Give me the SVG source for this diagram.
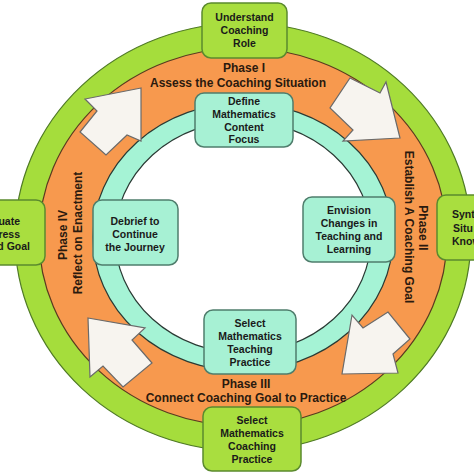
<svg xmlns="http://www.w3.org/2000/svg" width="474" height="474" viewBox="0 0 474 474">
  <style>
    .ring { stroke-width: 1.2; }
    .gbox { fill: #a9de3f; stroke: #5b8a2e; stroke-width: 1.5; }
    .cbox { fill: #a7f1d4; stroke: #4f7d6c; stroke-width: 1.5; }
    .bt { font-family: "Liberation Sans", Arial, sans-serif; font-weight: bold; font-size: 10.5px; fill: #1a1a1a; text-anchor: middle; }
    .pt { font-family: "Liberation Sans", Arial, sans-serif; font-weight: bold; font-size: 12px; fill: #2b1a0e; text-anchor: middle; }
    .arrow { fill: #f7f4ef; stroke: #6a6a6a; stroke-width: 1.2; stroke-linejoin: miter; }
  </style>
  <rect width="474" height="474" fill="#ffffff"/>
  <g id="rings">
    <ellipse class="ring" cx="243" cy="237" rx="228" ry="214" fill="#a5dd3c" stroke="#4f7a25"/>
    <ellipse class="ring" cx="243" cy="237" rx="204" ry="189" fill="#f7994e" stroke="#5a3a20"/>
    <ellipse class="ring" cx="243" cy="237" rx="150" ry="134" fill="#a5f3d5" stroke="#2a3a34"/>
    <ellipse class="ring" cx="243" cy="237" rx="128" ry="116" fill="#ffffff" stroke="#2a3a34"/>
  </g>
  <g id="connectors">
    <polygon class="arrow" points="141,88 85,99 97,111 80,132 106,155 127,135 141,141"/>
    <polygon class="arrow" points="400,138 343,141 353,130 330,108 350,78 380,93 386,82"/>
    <polygon class="arrow" points="342,374 352,315 363,328 388,312 410,339 393,354 398,373"/>
    <polygon class="arrow" points="88,318 145,328 132,340 152,363 123,387 103,366 90,377"/>
  </g>
  <g id="phase1">
    <text class="pt" x="244" y="72">Phase I</text>
    <text class="pt" x="238" y="87">Assess the Coaching Situation</text>
  </g>
  <g id="phase2">
    <text class="pt" transform="translate(419,228) rotate(90)">Phase II</text>
    <text class="pt" transform="translate(405,227) rotate(90)">Establish A Coaching Goal</text>
  </g>
  <g id="phase3">
    <text class="pt" x="246" y="388">Phase III</text>
    <text class="pt" x="246" y="402">Connect Coaching Goal to Practice</text>
  </g>
  <g id="phase4">
    <text class="pt" transform="translate(67,235) rotate(-90)">Phase IV</text>
    <text class="pt" transform="translate(82,233) rotate(-90)">Reflect on Enactment</text>
  </g>
  <g id="understand">
    <rect class="gbox" x="202" y="3" width="85" height="55" rx="9"/>
    <text class="bt" x="244.5" y="21">Understand</text>
    <text class="bt" x="244.5" y="34">Coaching</text>
    <text class="bt" x="244.5" y="47">Role</text>
  </g>
  <g id="select-coaching">
    <rect class="gbox" x="203" y="407" width="98" height="64" rx="9"/>
    <text class="bt" x="252" y="424">Select</text>
    <text class="bt" x="252" y="436.5">Mathematics</text>
    <text class="bt" x="252" y="450">Coaching</text>
    <text class="bt" x="252" y="462.5">Practice</text>
  </g>
  <g id="evaluate">
    <rect class="gbox" x="-45" y="200" width="90" height="65" rx="9"/>
    <text class="bt" x="20" y="225" style="text-anchor:end">uate</text>
    <text class="bt" x="20" y="237.5" style="text-anchor:end">ress</text>
    <text class="bt" x="30" y="250" style="text-anchor:end">d Goal</text>
  </g>
  <g id="synthesize">
    <rect class="gbox" x="437" y="195" width="90" height="65" rx="9"/>
    <text class="bt" x="452" y="218" style="text-anchor:start">Synt</text>
    <text class="bt" x="453" y="231.5" style="text-anchor:start">Situ</text>
    <text class="bt" x="452" y="245" style="text-anchor:start">Know</text>
  </g>
  <g id="define">
    <rect class="cbox" x="195" y="93" width="98" height="54" rx="9"/>
    <text class="bt" x="244" y="105">Define</text>
    <text class="bt" x="244" y="117.5">Mathematics</text>
    <text class="bt" x="244" y="130.5">Content</text>
    <text class="bt" x="244" y="143">Focus</text>
  </g>
  <g id="select-teaching">
    <rect class="cbox" x="204" y="310" width="92" height="64" rx="9"/>
    <text class="bt" x="250" y="327">Select</text>
    <text class="bt" x="250" y="340">Mathematics</text>
    <text class="bt" x="250" y="353">Teaching</text>
    <text class="bt" x="250" y="365.5">Practice</text>
  </g>
  <g id="debrief">
    <rect class="cbox" x="93" y="200" width="85" height="65" rx="9"/>
    <text class="bt" x="135" y="225">Debrief to</text>
    <text class="bt" x="135" y="237.5">Continue</text>
    <text class="bt" x="135" y="251">the Journey</text>
  </g>
  <g id="envision">
    <rect class="cbox" x="303" y="197" width="92" height="65" rx="9"/>
    <text class="bt" x="349" y="214">Envision</text>
    <text class="bt" x="349" y="227">Changes in</text>
    <text class="bt" x="349" y="240">Teaching and</text>
    <text class="bt" x="349" y="253">Learning</text>
  </g>
</svg>
